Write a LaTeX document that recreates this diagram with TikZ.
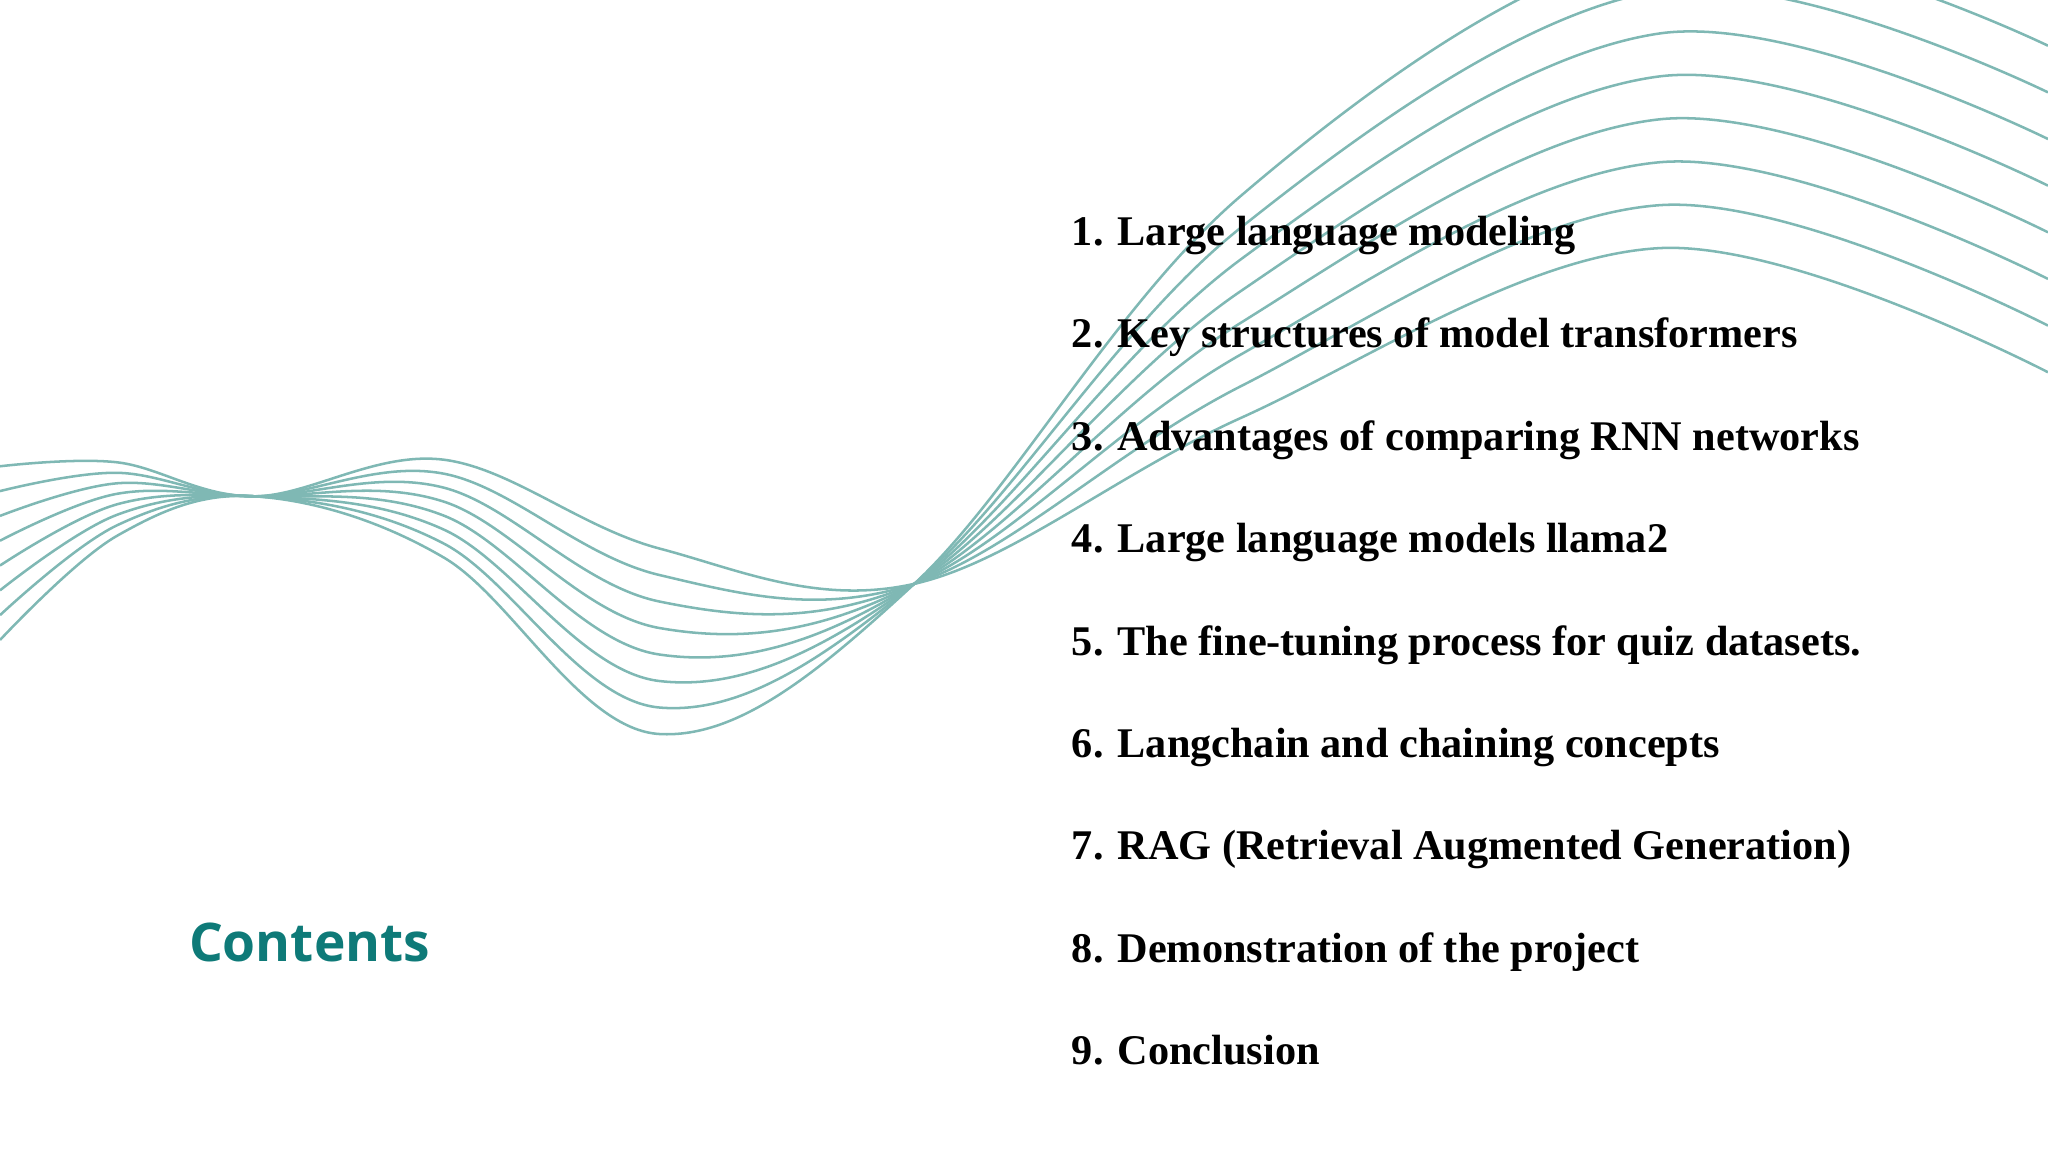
\documentclass[tikz,border=0pt]{standalone}
\usepackage{fontspec}
\setmainfont{Liberation Serif}
\newfontfamily\headfont{Open Sans}
\definecolor{wave}{HTML}{7FB8B4}
\definecolor{teal1}{HTML}{0E7A78}
\begin{document}
\begin{tikzpicture}[x=0.01cm,y=-0.01cm,
  item/.style={anchor=base west,inner sep=0pt,font=\fontsize{9.2}{11}\selectfont\bfseries},
  wavestyle/.style={draw=wave,line width=0.55pt}]
\path[use as bounding box] (0,0) rectangle (1568,882);
\begin{scope}
\clip (0,0) rectangle (1568,882);
\foreach \t in {0,1/7,2/7,3/7,4/7,5/7,6/7,1}{
  \draw[wavestyle] plot[smooth,tension=0.6] coordinates {
    ({0},{357+133*\t})
    ({90},{354+56*\t})
    ({195},{380})
    ({340},{352+75*\t})
    ({505},{420+142*\t})
    ({700},{447})
    ({950},{320-170*\t})
    ({1270},{190-230*\t})
    ({1568},{285-250*\t})};
}
\end{scope}
\node[anchor=base west,inner sep=0pt,text=teal1,font=\headfont\fontsize{11.6}{14}\selectfont\bfseries] (title) at (144,736) {Contents};
\node[item] (i1) at (820,188) {1. Large language modeling};
\node[item] (i2) at (820,266) {2. Key structures of model transformers};
\node[item] (i3) at (820,345) {3. Advantages of comparing RNN networks};
\node[item] (i4) at (820,423) {4. Large language models llama2};
\node[item] (i5) at (820,502) {5. The fine-tuning process for quiz datasets.};
\node[item] (i6) at (820,580) {6. Langchain and chaining concepts};
\node[item] (i7) at (820,658) {7. RAG (Retrieval Augmented Generation)};
\node[item] (i8) at (820,737) {8. Demonstration of the project};
\node[item] (i9) at (820,815) {9. Conclusion};
\end{tikzpicture}
\end{document}
